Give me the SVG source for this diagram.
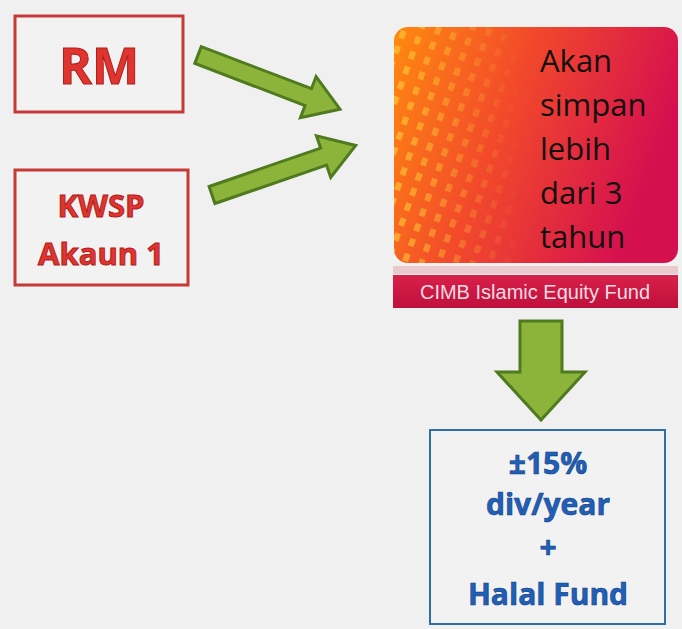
<svg xmlns="http://www.w3.org/2000/svg" width="682" height="629" viewBox="0 0 682 629">
<defs>
<style>
.arr{fill:#8cb43a;stroke:#4f7a1e;stroke-width:3;stroke-linejoin:miter}
.red{font-family:"Open Sans","DejaVu Sans",sans-serif;font-weight:bold;fill:#e0342f;stroke:#b01d1d;stroke-width:1;text-anchor:middle}
.blue{font-family:"Open Sans","DejaVu Sans",sans-serif;font-weight:bold;fill:#1f5fb8;stroke:#14407f;stroke-width:0.6;text-anchor:middle;font-size:30px}
.blk{font-family:"Open Sans","DejaVu Sans",sans-serif;font-size:31px;fill:#111}
</style>
<linearGradient id="card" x1="0" y1="0" x2="1" y2="0.3">
<stop offset="0" stop-color="#ff8a10"/><stop offset="0.45" stop-color="#f24a2a"/><stop offset="1" stop-color="#d5104f"/>
</linearGradient>
<linearGradient id="band" x1="0" y1="0" x2="0" y2="1">
<stop offset="0" stop-color="#d8204a"/><stop offset="1" stop-color="#c0103c"/>
</linearGradient>
<pattern id="dots" width="16" height="16" patternUnits="userSpaceOnUse" patternTransform="rotate(20)">
<rect x="3" y="3" width="6" height="8" fill="#ffd23a" opacity="0.6"/>
</pattern>
<linearGradient id="fade" x1="0" y1="0" x2="1" y2="0">
<stop offset="0" stop-color="#fff" stop-opacity="1"/><stop offset="0.45" stop-color="#fff" stop-opacity="0"/>
</linearGradient>
<mask id="m"><rect x="394" y="27" width="284" height="236" fill="url(#fade)"/></mask>
</defs>
<rect width="682" height="629" fill="#f0f0f0"/>
<g id="rm"><rect x="15" y="16" width="168" height="96" fill="#f2f2f2" stroke="#c53a36" stroke-width="3"/>
<text class="red" x="99" y="84" font-size="50">RM</text></g>
<g id="kwsp"><rect x="15" y="170" width="173" height="115" fill="#f2f2f2" stroke="#c53a36" stroke-width="3"/>
<text class="red" x="101" y="217" font-size="31">KWSP</text>
<text class="red" x="101" y="265" font-size="31">Akaun 1</text></g>
<g id="cimb">
<rect x="394" y="27" width="284" height="236" rx="14" fill="url(#card)"/>
<rect x="394" y="27" width="284" height="236" rx="14" fill="url(#dots)" mask="url(#m)"/>
<text class="blk" x="540" y="72">Akan</text>
<text class="blk" x="540" y="116">simpan</text>
<text class="blk" x="540" y="160">lebih</text>
<text class="blk" x="540" y="204">dari 3</text>
<text class="blk" x="540" y="248">tahun</text>
<rect x="393" y="266" width="285" height="8" fill="#e8b0b8" opacity="0.6"/>
<rect x="393" y="275" width="285" height="33" fill="url(#band)"/>
<text x="535" y="299" font-family="Liberation Sans,Arial,sans-serif" font-size="20" fill="#f7dce2" text-anchor="middle">CIMB Islamic Equity Fund</text>
</g>
<g id="result"><rect x="430" y="430" width="235" height="194" fill="#f2f2f2" stroke="#2f6fa8" stroke-width="2"/>
<text class="blue" x="548" y="474">±15%</text>
<text class="blue" x="548" y="515">div/year</text>
<text class="blue" x="548" y="558">+</text>
<text class="blue" x="548" y="605">Halal Fund</text></g>
<g id="connectors">
<polygon class="arr" transform="translate(198,55) rotate(20.9)" points="0,-9 118,-9 118,-22 152,0 118,22 118,9 0,9"/>
<polygon class="arr" transform="translate(212,195) rotate(-19)" points="0,-9 118,-9 118,-22 152,0 118,22 118,9 0,9"/>
<polygon class="arr" points="520,321 562,321 562,372 585,372 541,420 497,372 520,372"/>
</g>
</svg>
